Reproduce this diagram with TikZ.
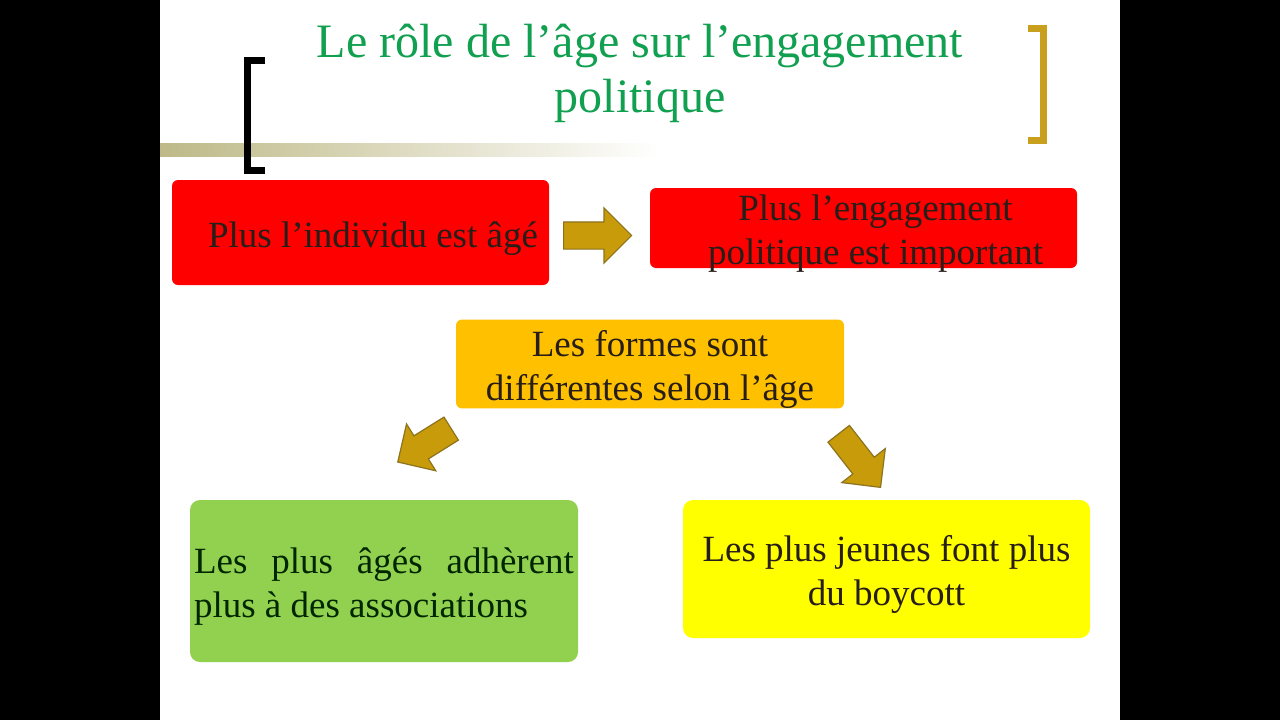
\documentclass[tikz,border=0pt]{standalone}
\usepackage{fontspec}
\setmainfont{Liberation Serif}
\usetikzlibrary{shapes.arrows}
\definecolor{SlideGreen}{RGB}{16,160,80}
\definecolor{BracketGold}{RGB}{200,160,30}
\definecolor{BarKhaki}{RGB}{190,185,135}
\definecolor{ArrowGold}{RGB}{200,155,10}
\definecolor{ArrowEdge}{RGB}{140,115,30}
\definecolor{BoxRed}{RGB}{255,0,0}
\definecolor{BoxOrange}{RGB}{255,192,0}
\definecolor{BoxGreen}{RGB}{146,208,80}
\definecolor{BoxYellow}{RGB}{255,255,0}
\definecolor{TextDark}{RGB}{40,30,25}

\begin{document}
\begin{tikzpicture}[
    x=1pt, y=-1pt,
    box/.style={
        rounded corners=6pt,
        inner sep=0pt,
        align=flush center,
        text=TextDark,
        font=\fontsize{37}{44}\selectfont,
        execute at begin node={\rule{0pt}{37pt}}
    },
    blockarrow/.style={
        single arrow,
        anchor=tail,
        draw=ArrowEdge,
        fill=ArrowGold,
        line width=1.2pt,
        inner sep=13pt,
        minimum width=54pt,
        single arrow head extend=14pt,
        single arrow tip angle=90
    },
    bracket/.style={
        line width=7pt,
        miter limit=10
    }
]
\useasboundingbox (0,0) rectangle (1280,720);

% slide background
\fill[black] (0,0) rectangle (1280,720);
\fill[white] (160,0) rectangle (1120,720);

% =========================
% title
% =========================
\shade[left color=BarKhaki, right color=white] (160,143) rectangle (660,156);
\draw[bracket, black] (265,60) -- (247,60) -- (247,170) -- (265,170);
\draw[bracket, BracketGold] (1028,28) -- (1043.5,28) -- (1043.5,140) -- (1028,140);

\node[text=SlideGreen, align=center, font=\fontsize{48}{55}\selectfont] (title) at (640,73.3)
    {Le rôle de l’âge sur l’engagement\\politique};

% =========================
% cause -> effect
% =========================
\node[box, fill=BoxRed, minimum width=377pt, minimum height=105pt,
      text width=355pt, align=flush right] (cause) at (360.5,232.5)
    {Plus l’individu est âgé};
\node[box, fill=BoxRed, minimum width=427pt, minimum height=80pt] (effect) at (863.5,228) {};
\node[box, text width=420pt, xshift=12pt] (effecttext) at (effect.center)
    {Plus l’engagement\\politique est important};

\node[blockarrow, minimum height=68pt] (causearrow) at (563,235.5) {};

% =========================
% forms by age
% =========================
\node[box, fill=BoxOrange, minimum width=388pt, minimum height=88pt, text width=380pt] (forms) at (650,364)
    {Les formes sont\\différentes selon l’âge};

\node[blockarrow, rotate=212, minimum height=63pt] (leftarrow) at (451.7,428.3) {};
\node[blockarrow, rotate=-52, minimum height=68pt] (rightarrow) at (838.3,433.3) {};

\node[box, fill=BoxGreen, rounded corners=10pt, minimum width=388pt, minimum height=162pt,
      text width=380pt, align=justify, text=black!85!green] (older) at (384,581)
    {Les plus âgés adhèrent\linebreak plus à des associations};
\node[box, fill=BoxYellow, rounded corners=10pt, minimum width=407pt, minimum height=138pt,
      text width=400pt] (younger) at (886.5,569)
    {Les plus jeunes font plus\\du boycott};

\end{tikzpicture}
\end{document}
